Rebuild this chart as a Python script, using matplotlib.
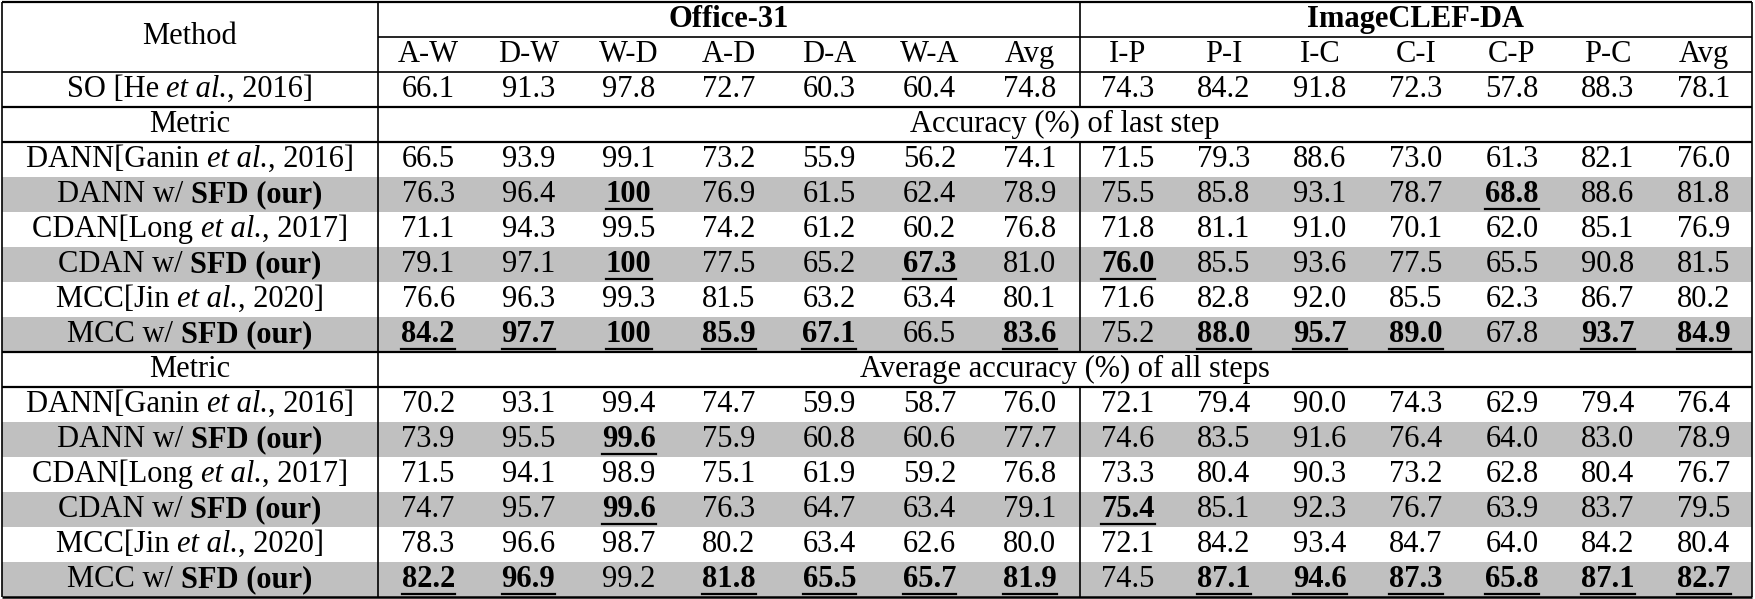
import matplotlib
matplotlib.use("Agg")
import matplotlib.pyplot as plt

W, H = 1755, 599
office_cols = ["A-W", "D-W", "W-D", "A-D", "D-A", "W-A", "Avg"]
clef_cols = ["I-P", "P-I", "I-C", "C-I", "C-P", "P-C", "Avg"]

so_row = "66.1 91.3 97.8 72.7 60.3 60.4 74.8 74.3 84.2 91.8 72.3 57.8 88.3 78.1"

methods = [
    [("DANN[Ganin ", "n"), ("et al.", "i"), (", 2016]", "n")],
    [("DANN w/ ", "n"), ("SFD (our)", "b")],
    [("CDAN[Long ", "n"), ("et al.", "i"), (", 2017]", "n")],
    [("CDAN w/ ", "n"), ("SFD (our)", "b")],
    [("MCC[Jin ", "n"), ("et al.", "i"), (", 2020]", "n")],
    [("MCC w/ ", "n"), ("SFD (our)", "b")],
]
so_name = [("SO [He ", "n"), ("et al.", "i"), (", 2016]", "n")]

last_step = [
    "66.5 93.9 99.1 73.2 55.9 56.2 74.1 71.5 79.3 88.6 73.0 61.3 82.1 76.0",
    "76.3 96.4 100* 76.9 61.5 62.4 78.9 75.5 85.8 93.1 78.7 68.8* 88.6 81.8",
    "71.1 94.3 99.5 74.2 61.2 60.2 76.8 71.8 81.1 91.0 70.1 62.0 85.1 76.9",
    "79.1 97.1 100* 77.5 65.2 67.3* 81.0 76.0* 85.5 93.6 77.5 65.5 90.8 81.5",
    "76.6 96.3 99.3 81.5 63.2 63.4 80.1 71.6 82.8 92.0 85.5 62.3 86.7 80.2",
    "84.2* 97.7* 100* 85.9* 67.1* 66.5 83.6* 75.2 88.0* 95.7* 89.0* 67.8 93.7* 84.9*",
]
avg_steps = [
    "70.2 93.1 99.4 74.7 59.9 58.7 76.0 72.1 79.4 90.0 74.3 62.9 79.4 76.4",
    "73.9 95.5 99.6* 75.9 60.8 60.6 77.7 74.6 83.5 91.6 76.4 64.0 83.0 78.9",
    "71.5 94.1 98.9 75.1 61.9 59.2 76.8 73.3 80.4 90.3 73.2 62.8 80.4 76.7",
    "74.7 95.7 99.6* 76.3 64.7 63.4 79.1 75.4* 85.1 92.3 76.7 63.9 83.7 79.5",
    "78.3 96.6 98.7 80.2 63.4 62.6 80.0 72.1 84.2 93.4 84.7 64.0 84.2 80.4",
    "82.2* 96.9* 99.2 81.8* 65.5* 65.7* 81.9* 74.5 87.1* 94.6* 87.3* 65.8* 87.1* 82.7*",
]

FONT = "Liberation Serif"
FS = 22

fig = plt.figure(figsize=(W / 100, H / 100), dpi=100)
ax = fig.add_axes([0, 0, 1, 1])
ax.set_xlim(0, W)
ax.set_ylim(H, 0)
ax.axis("off")
renderer = fig.canvas.get_renderer()

x0, xm, xs, x1 = 2, 378, 1080, 1752
top, rh = 2, 35.0
ycen = lambda r: top + rh * (r + 0.5)
ybnd = lambda r: top + rh * r

def rich(parts, cx, cy):
    objs = []
    for s, st in parts:
        t = ax.text(0, cy, s, fontfamily=FONT, fontsize=FS, va="center", ha="left",
                    fontweight="bold" if st == "b" else "normal",
                    fontstyle="italic" if st == "i" else "normal")
        objs.append(t)
    widths = [t.get_window_extent(renderer).width for t in objs]
    x = cx - sum(widths) / 2
    for t, w in zip(objs, widths):
        t.set_x(x)
        x += w

def cell(s, cx, cy):
    bold = s.endswith("*")
    s = s.rstrip("*")
    t = ax.text(cx, cy, s, fontfamily=FONT, fontsize=FS, va="center", ha="center",
                fontweight="bold" if bold else "normal")
    if bold:
        w = t.get_window_extent(renderer).width
        ax.plot([cx - w / 2, cx + w / 2], [cy + 14, cy + 14], color="black", lw=1.6)

cw_o = (xs - xm) / 7
cw_c = (x1 - xs) / 7
colx = [xm + cw_o * (i + 0.5) for i in range(7)] + [xs + cw_c * (i + 0.5) for i in range(7)]

for r in [5, 7, 9, 12, 14, 16]:
    ax.add_patch(plt.Rectangle((x0, ybnd(r)), x1 - x0, rh, color="#c0c0c0", lw=0, zorder=0))

ax.text((x0 + xm) / 2, ybnd(1), "Method", fontfamily=FONT, fontsize=FS, ha="center", va="center")
ax.text((xm + xs) / 2, ycen(0), "Office-31", fontfamily=FONT, fontsize=FS, ha="center", va="center", fontweight="bold")
ax.text((xs + x1) / 2, ycen(0), "ImageCLEF-DA", fontfamily=FONT, fontsize=FS, ha="center", va="center", fontweight="bold")
for i, c in enumerate(office_cols + clef_cols):
    ax.text(colx[i], ycen(1), c, fontfamily=FONT, fontsize=FS, ha="center", va="center")

rich(so_name, (x0 + xm) / 2, ycen(2))
for i, v in enumerate(so_row.split()):
    cell(v, colx[i], ycen(2))

for r0, title, data in [(3, "Accuracy (%) of last step", last_step),
                        (10, "Average accuracy (%) of all steps", avg_steps)]:
    ax.text((x0 + xm) / 2, ycen(r0), "Metric", fontfamily=FONT, fontsize=FS, ha="center", va="center")
    ax.text((xm + x1) / 2, ycen(r0), title, fontfamily=FONT, fontsize=FS, ha="center", va="center")
    for k, (m, row) in enumerate(zip(methods, data)):
        r = r0 + 1 + k
        rich(m, (x0 + xm) / 2, ycen(r))
        for i, v in enumerate(row.split()):
            cell(v, colx[i], ycen(r))

def hl(y, xa=x0, xb=x1, lw=1.2):
    ax.plot([xa, xb], [y, y], color="black", lw=lw, solid_capstyle="butt")
def vl(x, ya, yb, lw=1.2):
    ax.plot([x, x], [ya, yb], color="black", lw=lw, solid_capstyle="butt")

hl(ybnd(0), lw=1.6)
hl(ybnd(1), xm, x1)
for r in [2, 3, 4, 10, 11]:
    hl(ybnd(r), lw=1.6 if r in (3, 4, 10, 11) else 1.2)
hl(ybnd(17), lw=1.8)
vl(x0, ybnd(0), ybnd(17))
vl(x1, ybnd(0), ybnd(17))
vl(xm, ybnd(0), ybnd(17))
for a, b in [(0, 3), (4, 10), (11, 17)]:
    vl(xs, ybnd(a), ybnd(b))

fig.savefig("out.png", dpi=100)
